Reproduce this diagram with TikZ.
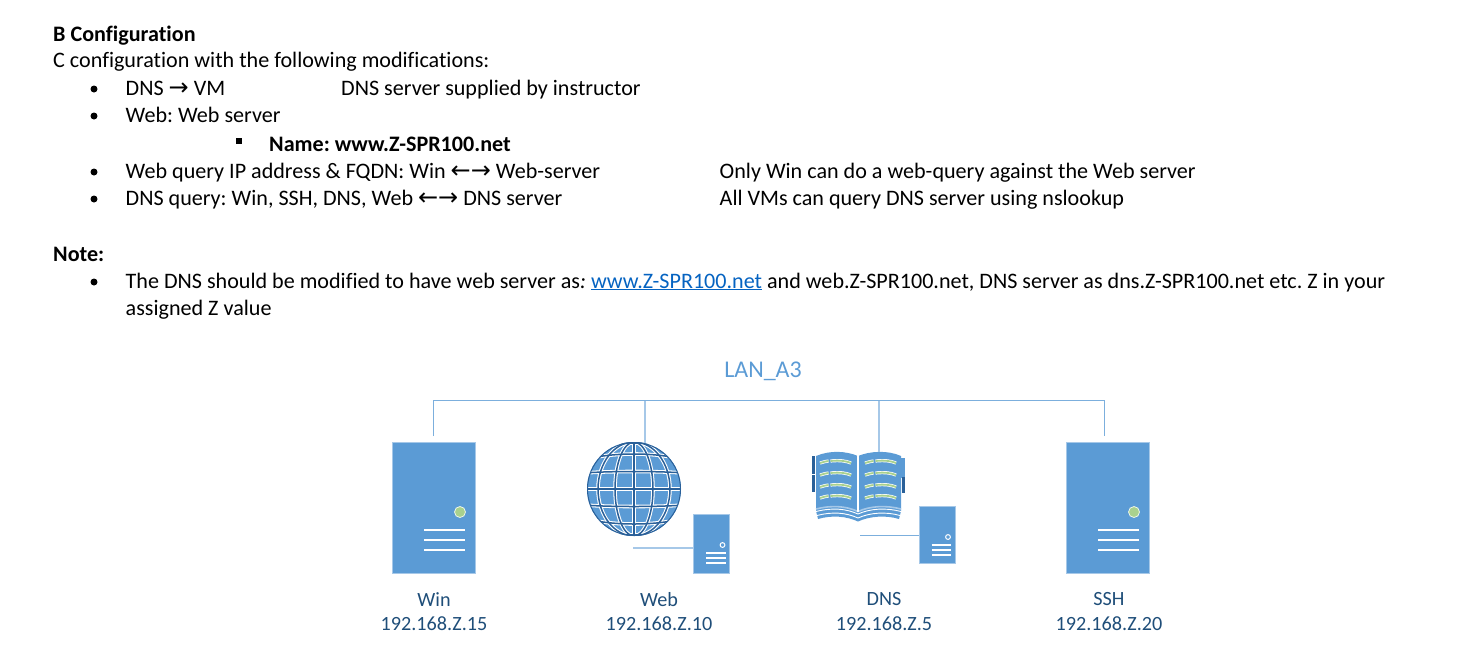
\documentclass[tikz,border=0pt]{standalone}
\usepackage{fontspec}
\setmainfont{Carlito}[Ligatures=NoCommon]
\newfontfamily\arrowfont{DejaVu Sans}
\frenchspacing
\definecolor{srvblue}{HTML}{5B9BD5}
\definecolor{srvdark}{HTML}{2A6099}
\definecolor{srvlight}{HTML}{A6C8E8}
\definecolor{srvgreen}{HTML}{A9D18E}
\definecolor{lbltext}{HTML}{1F4E79}
\definecolor{linkblue}{HTML}{0563C1}
\newcommand{\arrowtxt}[1]{{\arrowfont\fontsize{24}{26}\selectfont #1}}
\tikzset{
txt/.style={anchor=base west, inner sep=0pt, font=\fontsize{22.1}{26}\selectfont}, % body text of the page
txtb/.style={txt, font=\fontsize{22.1}{26}\selectfont\bfseries}, % bold body text
bulletdot/.style={circle, fill=black, inner sep=0pt, minimum size=7pt}, % round list marker
bulletsq/.style={rectangle, fill=black, inner sep=0pt, minimum size=6pt}, % square list marker
srvbox/.style={rectangle, fill=srvblue, draw=srvlight, line width=0.6pt, inner sep=0pt}, % server body
lbl/.style={inner sep=0pt, text=lbltext, font=\fontsize{20.2}{24}\selectfont}, % name and address under a server
bus/.style={draw=srvblue!80, line width=1pt}, % LAN lines
stub/.style={draw=srvlight, line width=1.6pt}, % line from server to icon
}
\newcommand{\bigserver}[2]{ % #1 name, #2 x of the left edge
  \node[srvbox, minimum width=83.5pt, minimum height=131pt] (#1) at (#2+42,507.5) {};
  \fill[srvgreen, draw=white!80!srvgreen, line width=0.8pt] (#2+68,512) circle (5.5);
  \foreach \y in {530,540,550}
    \draw[white, line width=2.8pt] (#2+32,\y) -- (#2+73,\y);
}
\newcommand{\smallserver}[4]{ % #1 name, #2 left, #3 top, #4 height
  \node[srvbox, minimum width=36pt, minimum height=#4 pt] (#1) at (#2+18,#3+#4/2) {};
  \draw[white, line width=1pt] (#2+29,#3+31) circle (2.4);
  \foreach \y in {39,44,49}
    \draw[white, line width=1.8pt] (#2+12.5,#3+\y) -- (#2+32,#3+\y);
}
\begin{document}
\begin{tikzpicture}[x=1pt,y=-1pt]
  \useasboundingbox (0,0) rectangle (1458,657);
  % text of the page
  \node[txtb] (title) at (53,41) {B Configuration};
  \node[txt] (intro) at (53,67) {C configuration with the following modifications:};
  \node[bulletdot] (b1) at (94,89) {};
  \node[txt] (t1) at (125.5,95) {DNS \arrowtxt{→} VM};
  \node[txt] (t1r) at (341,95) {DNS server supplied by instructor};
  \node[bulletdot] (b2) at (94,116) {};
  \node[txt] (t2) at (125.5,122.5) {Web: Web server};
  \node[bulletsq] (b3) at (239,141) {};
  \node[txtb] (t3) at (269,151) {Name: www.Z-SPR100.net};
  \node[bulletdot] (b4) at (94,172) {};
  \node[txt] (t4) at (125.5,178) {Web query IP address \& FQDN: Win \arrowtxt{←→} Web-server};
  \node[txt] (t4r) at (719.5,178) {Only Win can do a web-query against the Web server};
  \node[bulletdot] (b5) at (94,199) {};
  \node[txt] (t5) at (125.5,205.5) {DNS query: Win, SSH, DNS, Web \arrowtxt{←→} DNS server};
  \node[txt] (t5r) at (719.5,205.5) {All VMs can query DNS server using nslookup};
  \node[txtb] (note) at (53,261) {Note:};
  \node[bulletdot] (b6) at (94,282) {};
  \node[txt] (t6) at (125.5,288) {The DNS should be modified to have web server as\textit{:} \textcolor{linkblue}{\underline{www.Z-SPR100.net}} and web.Z-SPR100.net, DNS server as dns.Z-SPR100.net etc. Z in your};
  \node[txt] (t7) at (125.5,315.5) {assigned Z value};

  % LAN
  \node[inner sep=0pt, text=srvblue, font=\fontsize{24}{28}\selectfont] (lan) at (763,371) {LAN\_A3};
  \coordinate (busw) at (433.5,400.5);
  \coordinate (buse) at (1104,400.5);
  \coordinate (bweb) at (645,400.5);
  \coordinate (bdns) at (879,400.5);
  \coordinate (dwin) at (433.5,436);
  \coordinate (dssh) at (1104,436);

  % servers
  \bigserver{win}{392}
  \bigserver{ssh}{1066}
  \smallserver{websrv}{693.5}{514}{59}
  \smallserver{dnssrv}{919}{506}{57}

  % globe
  \node[circle, fill=srvblue, inner sep=0pt, minimum size=94pt] (globe) at (634,489) {};
  \begin{scope}
    \clip (634,489) circle (47);
    \foreach \c/\w in {white/3.6,srvdark/1.5}{
      \foreach \r in {19,36}
        \draw[\c, line width=\w pt] (634,489) ellipse ({\r} and 47);
      \draw[\c, line width=\w pt] (634,442) -- (634,536);
      \draw[\c, line width=\w pt] (587,489) -- (681,489);
      \foreach \d/\b in {17/1,33/4,43/6}{
        \draw[\c, line width=\w pt] (584,489-\d+\b) .. controls (610,489-\d-\b) and (658,489-\d-\b) .. (684,489-\d+\b);
        \draw[\c, line width=\w pt] (584,489+\d-\b) .. controls (610,489+\d+\b) and (658,489+\d+\b) .. (684,489+\d-\b);
      }
    }
  \end{scope}
  \draw[srvdark, line width=1pt] (634,489) circle (46.5);

  % book
  \fill[srvblue] (901,458) rectangle (905,478);
  \fill[srvdark] (812,456) rectangle (815,474);
  \fill[srvdark] (812,475) rectangle (815,492);
  \fill[srvdark] (902,477) rectangle (905,493);
  \node[inner sep=0pt, minimum size=0pt] (book) at (858,486) {};
  \fill[srvblue] (816,456) .. controls (830,450) and (846,451) .. (858,456)
    .. controls (870,451) and (888,450) .. (901,456) -- (901,511) -- (899,519)
    .. controls (886,515) and (870,516) .. (858,521.5)
    .. controls (846,516) and (832,515) .. (818,519) -- (816,511) -- cycle;
  \draw[srvlight, line width=1.6pt] (816,509) .. controls (832,505) and (846,506) .. (858,511.5)
    .. controls (870,506) and (886,505) .. (901,509);
  \draw[white, line width=0.9pt] (816,511.5) .. controls (832,507.5) and (846,508.5) .. (858,514)
    .. controls (870,508.5) and (886,507.5) .. (901,511.5);
  \draw[white, line width=0.9pt] (817,515.5) .. controls (832,511.5) and (846,512.5) .. (858,518)
    .. controls (870,512.5) and (886,511.5) .. (900,515.5);
  \draw[white, line width=1.2pt] (858,455) -- (858,512);
  \foreach \y in {462,474,486,497}{
    \foreach \o in {0,45}{
      \draw[white, line width=3.2pt] (820+\o,\y+1) .. controls (824+\o,\y) and (826+\o,\y-1) .. (828.5+\o,\y-1);
      \draw[white, line width=3.2pt] (830.5+\o,\y-1) .. controls (840+\o,\y-2) and (846+\o,\y-1) .. (851+\o,\y+1);
      \draw[srvgreen, line width=1.8pt] (820+\o,\y+1) .. controls (824+\o,\y) and (826+\o,\y-1) .. (828.5+\o,\y-1);
      \draw[srvgreen, line width=1.8pt] (830.5+\o,\y-1) .. controls (840+\o,\y-2) and (846+\o,\y-1) .. (851+\o,\y+1);
    }
  }

  % connectors
  \coordinate (gtop) at (645,443);
  \coordinate (btop) at (879,452);
  \coordinate (wstub) at (633,548);
  \coordinate (dstub) at (860,535.5);
  \draw[bus] (dwin) -- (busw) -- (buse) -- (dssh);
  \draw[stub] (bweb) -- (gtop);
  \draw[stub] (bdns) -- (btop);
  \draw[stub] (wstub) -- (wstub -| websrv.west);
  \draw[bus] (dstub) -- (dstub -| dnssrv.west);

  % labels
  \node[lbl] (lwin) at (434,599.5) {Win};
  \node[lbl] (iwin) at (434,623.5) {192.168.Z.15};
  \node[lbl] (lweb) at (659,599.5) {Web};
  \node[lbl] (iweb) at (659,623.5) {192.168.Z.10};
  \node[lbl] (ldns) at (884,599.5) {DNS};
  \node[lbl] (idns) at (884,623.5) {192.168.Z.5};
  \node[lbl] (lssh) at (1109,599.5) {SSH};
  \node[lbl] (issh) at (1109,623.5) {192.168.Z.20};
\end{tikzpicture}
\end{document}
